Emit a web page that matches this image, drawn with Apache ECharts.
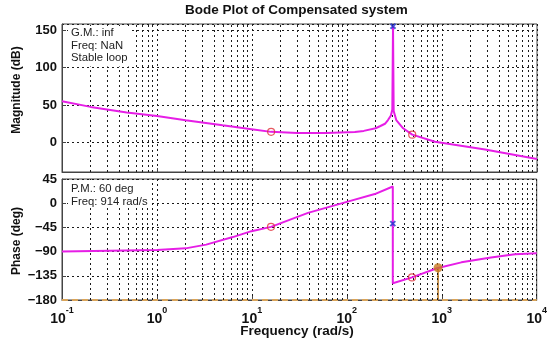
<!DOCTYPE html>
<html><head><meta charset="utf-8">
<script src="https://cdn.jsdelivr.net/npm/echarts@6/dist/echarts.min.js"></script>
<style>html,body{margin:0;padding:0;background:#fff}#c{width:550px;height:344px}</style>
</head><body><div id="c"></div>
<script>
// ---- data ----
const magFreq  = [0.1, 0.2, 0.48, 1, 2, 4.9, 9.9, 15.9, 30, 60, 121, 150, 200, 225, 251, 270, 290, 300, 305, 310, 330, 390, 486, 844, 2840, 10000];
const magDb    = [55, 47.5, 40, 35.5, 29.8, 23, 17.8, 14.2, 12.8, 12.8, 14, 15.5, 19, 22, 25, 30, 36, 44, 155, 42, 30, 19, 10.5, 1, -9.3, -22];
const phaseFreq = [0.1, 1, 2, 3.3, 6.3, 9.9, 15.9, 39, 100, 197, 305, 305, 486, 890, 1610, 3300, 5900, 10000];
const phaseDeg  = [-90, -87, -84, -77, -63, -52, -44, -18, 2.5, 17, 31, -149, -138, -121, -110, -101, -95, -93];
const magZeroMarks  = [[15.9, 14.2], [486, 10.5]];
const magPoleMarks  = [[305, 155]];
const phaseZeroMarks = [[15.9, -44], [486, -138]];
const phasePoleMarks = [[305, -38]];
const pmFreq = 914, pmPhase = -120;
const xDecades = [0.1, 1, 10, 100, 1000, 10000];
const magTicks = [0, 50, 100, 150];
const phaseTicks = [-180, -135, -90, -45, 0, 45];
const gmText = ['G.M.: inf', 'Freq: NaN', 'Stable loop'];
const pmText = ['P.M.: 60 deg', 'Freq: 914 rad/s'];

// ---- build ----
const FF = '"Liberation Sans", Arial, Helvetica, sans-serif';
const minorFreqs = [];
xDecades.slice(0, -1).forEach(d => { for (let m = 2; m <= 9; m++) minorFreqs.push(+(m * d).toPrecision(3)); });
const zip = (a, b) => a.map((v, i) => [v, b[i]]);
const gridDash = { color: '#1a1a1a', width: 1, type: [2, 3] };
const magenta = '#e61ee6';
const fmtNum = v => String(v).replace('-', '\u2212');

function xAxisCfg(gi, showLabels) {
  return {
    type: 'log', logBase: 10, gridIndex: gi, min: 0.1, max: 10000, splitNumber: 5,
    axisLine: { show: true, onZero: false, lineStyle: { color: '#444', width: 1 } },
    axisTick: { show: true, inside: true, length: 4, lineStyle: { color: '#444' } },
    splitLine: { show: true, lineStyle: gridDash },
    axisLabel: {
      show: showLabels, margin: 6,
      formatter: v => { const e = Math.round(Math.log10(v)); return '{b|10}{s|' + e + '}'; },
      rich: {
        b: { fontFamily: FF, fontWeight: 'bold', fontSize: 14, color: '#111', lineHeight: 20, verticalAlign: 'bottom' },
        s: { fontFamily: FF, fontWeight: 'bold', fontSize: 9, color: '#111', lineHeight: 20, verticalAlign: 'top' }
      }
    }
  };
}
function minorGrid(xi, yi) {
  return {
    type: 'line', xAxisIndex: xi, yAxisIndex: yi, data: [], silent: true,
    markLine: { silent: true, symbol: 'none', label: { show: false }, animation: false,
      lineStyle: gridDash, data: minorFreqs.map(f => ({ xAxis: f })) }
  };
}
const option = {
  animation: false,
  backgroundColor: '#fff',
  title: { text: 'Bode Plot of Compensated system', left: 185, top: 3, padding: 0,
    textStyle: { fontFamily: FF, fontWeight: 'bold', fontSize: 13.5, color: '#111' } },
  grid: [
    { left: 62, right: 13, top: 24, height: 148, show: true, borderColor: '#444', borderWidth: 1, backgroundColor: '#fff' },
    { left: 62, right: 13, top: 179, height: 121, show: true, borderColor: '#444', borderWidth: 1, backgroundColor: '#fff' }
  ],
  xAxis: [xAxisCfg(0, false), xAxisCfg(1, true)],
  yAxis: [
    { type: 'value', gridIndex: 0, min: -39.3, max: 158, splitNumber: 4,
      axisLine: { show: true, onZero: false, lineStyle: { color: '#444' } },
      axisTick: { show: true, inside: true, length: 4, lineStyle: { color: '#444' } },
      splitLine: { show: true, lineStyle: gridDash },
      axisLabel: { margin: 5, showMinLabel: false, showMaxLabel: false, fontFamily: FF, fontWeight: 'bold', fontSize: 13, color: '#111',
        formatter: v => magTicks.indexOf(v) >= 0 ? fmtNum(v) : '' } },
    { type: 'value', gridIndex: 1, min: -180, max: 45, interval: 45,
      axisLine: { show: true, onZero: false, lineStyle: { color: '#444' } },
      axisTick: { show: true, inside: true, length: 4, lineStyle: { color: '#444' } },
      splitLine: { show: true, lineStyle: gridDash },
      axisLabel: { margin: 5, fontFamily: FF, fontWeight: 'bold', fontSize: 13, color: '#111',
        formatter: v => phaseTicks.indexOf(v) >= 0 ? fmtNum(v) : '' } }
  ],
  graphic: [
    { type: 'text', z: 100, x: 17, y: 90, rotation: Math.PI / 2,
      style: { text: 'Magnitude (dB)', font: 'bold 12px ' + FF, fill: '#111', textAlign: 'center', textVerticalAlign: 'middle' } },
    { type: 'text', z: 100, x: 17, y: 241, rotation: Math.PI / 2,
      style: { text: 'Phase (deg)', font: 'bold 12px ' + FF, fill: '#111', textAlign: 'center', textVerticalAlign: 'middle' } },
    { type: 'text', z: 100, x: 297, y: 331,
      style: { text: 'Frequency (rad/s)', font: 'bold 13.5px ' + FF, fill: '#111', textAlign: 'center', textVerticalAlign: 'middle' } },
    { type: 'text', z: 100, x: 68, y: 26,
      style: { text: gmText.join('\n'), font: '11.3px ' + FF, fill: '#222', lineHeight: 12.5, backgroundColor: '#fff', padding: [1, 3, 2, 3] } },
    { type: 'text', z: 100, x: 68, y: 182,
      style: { text: pmText.join('\n'), font: '11.3px ' + FF, fill: '#222', lineHeight: 12.5, backgroundColor: '#fff', padding: [1, 2, 0, 3] } }
  ],
  series: [
    minorGrid(0, 0),
    minorGrid(1, 1),
    { type: 'line', xAxisIndex: 1, yAxisIndex: 1, data: [[0.1, -180], [10000, -180]], symbol: 'none', z: 3,
      lineStyle: { color: '#d9a45a', width: 2, type: [6, 4] } },
    { type: 'line', xAxisIndex: 1, yAxisIndex: 1, data: [[pmFreq, pmPhase], [pmFreq, -180]], symbol: 'none', z: 4,
      lineStyle: { color: '#b8741e', width: 1.5 } },
    { type: 'line', xAxisIndex: 0, yAxisIndex: 0, data: zip(magFreq, magDb), symbol: 'none', z: 5,
      lineStyle: { color: magenta, width: 2 } },
    { type: 'line', xAxisIndex: 1, yAxisIndex: 1, data: zip(phaseFreq, phaseDeg), symbol: 'none', z: 5,
      lineStyle: { color: magenta, width: 2 } },
    { type: 'scatter', xAxisIndex: 0, yAxisIndex: 0, data: magZeroMarks, symbol: 'circle', symbolSize: 7, z: 6,
      itemStyle: { color: 'rgba(0,0,0,0)', borderColor: '#e0303a', borderWidth: 1.2 } },
    { type: 'scatter', xAxisIndex: 1, yAxisIndex: 1, data: phaseZeroMarks, symbol: 'circle', symbolSize: 7, z: 6,
      itemStyle: { color: 'rgba(0,0,0,0)', borderColor: '#e0303a', borderWidth: 1.2 } },
    { type: 'scatter', xAxisIndex: 0, yAxisIndex: 0, data: magPoleMarks, symbol: 'path://M0,0L10,10M10,0L0,10', symbolSize: 5, z: 7,
      itemStyle: { color: '#2030d0', borderColor: '#2030d0', borderWidth: 2 } },
    { type: 'scatter', xAxisIndex: 1, yAxisIndex: 1, data: phasePoleMarks, symbol: 'path://M0,0L10,10M10,0L0,10', symbolSize: 5, z: 7,
      itemStyle: { color: '#2030d0', borderColor: '#2030d0', borderWidth: 2 } },
    { type: 'scatter', xAxisIndex: 1, yAxisIndex: 1, data: [[pmFreq, pmPhase]], symbol: 'circle', symbolSize: 9, z: 7,
      itemStyle: { color: '#c8781e' } }
  ]
};
const chart = echarts.init(document.getElementById('c'));
chart.setOption(option);
</script></body></html>
